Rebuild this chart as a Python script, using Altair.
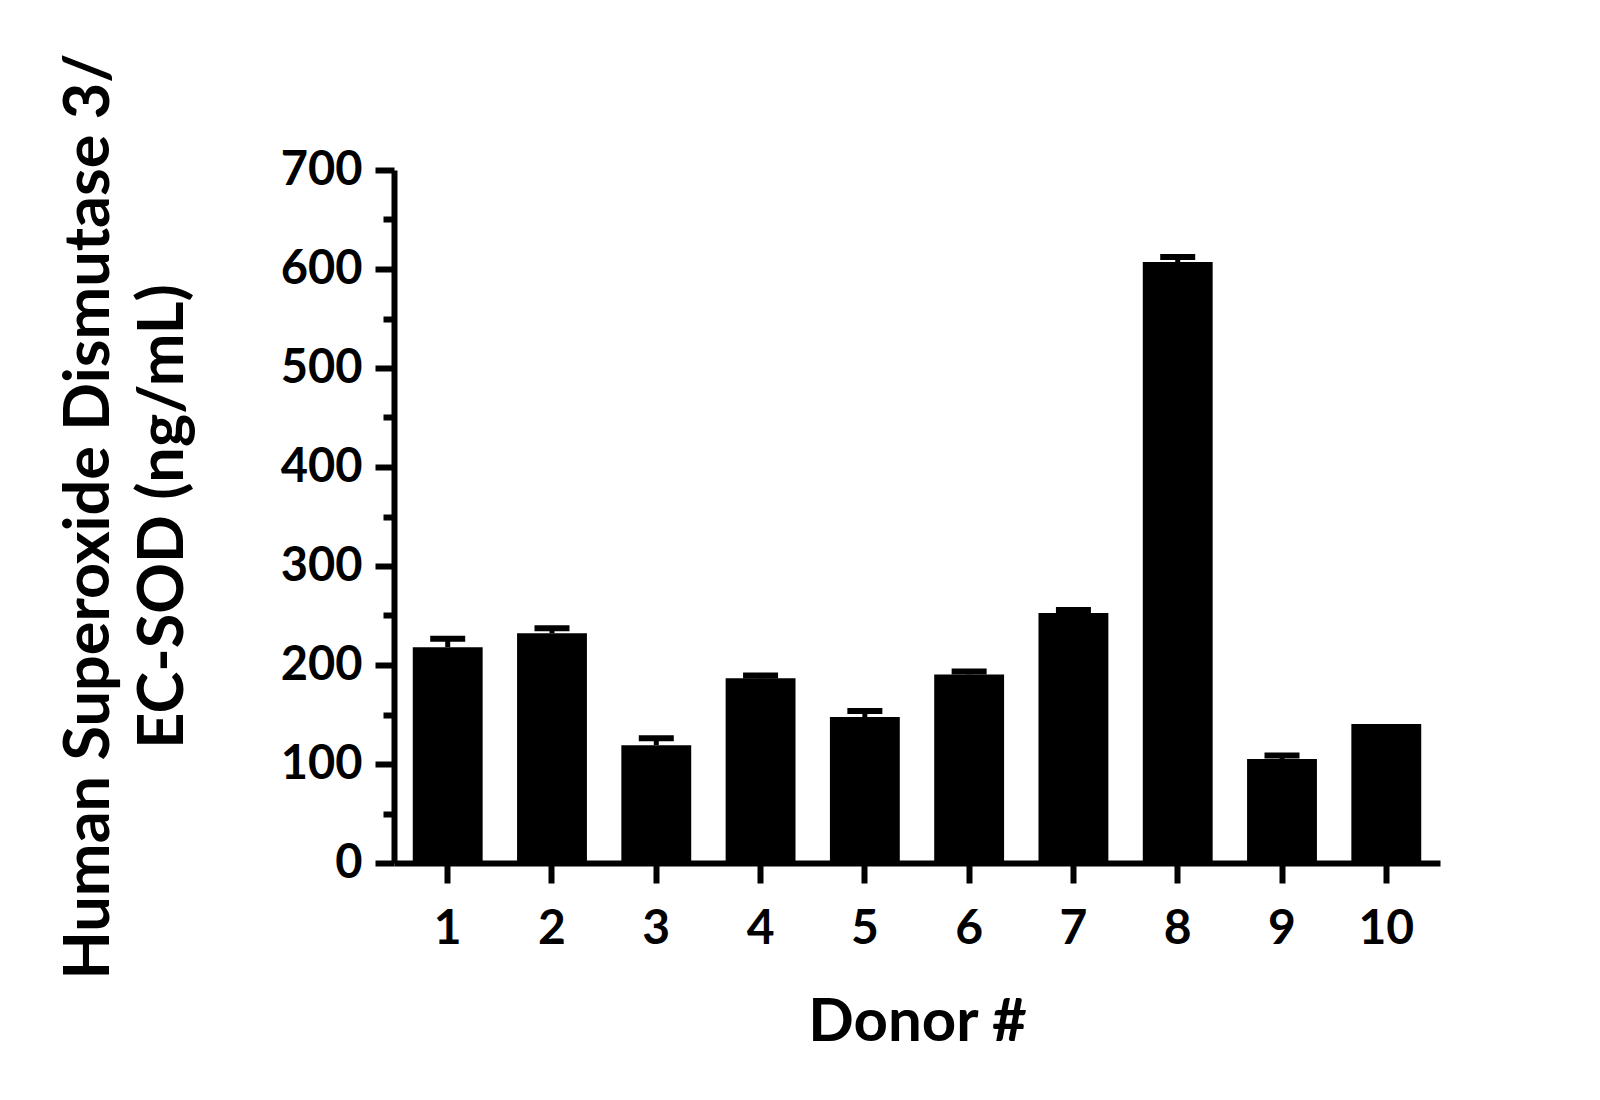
import altair as alt
import pandas as pd

donors = [1, 2, 3, 4, 5, 6, 7, 8, 9, 10]
means = [218, 232, 119, 186.5, 147.5, 190.5, 252.5, 607, 105, 140.5]
errors = [8.5, 5, 7, 3, 6, 3, 3, 5, 3.5, None]

df = pd.DataFrame({"donor": donors, "mean": means, "err": errors})
df["upper"] = df["mean"] + df["err"].fillna(0)
err_df = df[df["err"].notna()]

FONT = "Lato"

x_enc = alt.X(
    "donor:O",
    title="Donor #",
    scale=alt.Scale(paddingInner=0.33, paddingOuter=0.18),
    axis=alt.Axis(
        labelAngle=0, labelAlign="center",
        labelFont=FONT, labelFontSize=48, labelFontWeight="bold", labelColor="black",
        labelBaseline="alphabetic", labelPadding=60,
        tickSize=20, tickWidth=6, tickColor="black",
        domainWidth=6, domainColor="black",
        titleFont=FONT, titleFontSize=60, titleFontWeight="bold", titleColor="black",
        titleBaseline="alphabetic", titleY=177,
        grid=False,
    ),
)

y_scale = alt.Scale(domain=[0, 700], nice=False)
y_axis = alt.Axis(
    values=list(range(0, 701, 50)),
    labelExpr="datum.value % 100 == 0 ? datum.label : ''",
    labelOverlap=False, labelFlush=False,
    labelFont=FONT, labelFontSize=47, labelFontWeight="bold", labelColor="black",
    labelPadding=13,
    tickSize={"condition": {"test": "datum.value % 100 == 0", "value": 19}, "value": 11},
    tickWidth=6, tickColor="black",
    domainWidth=6, domainColor="black",
    title=["Human Superoxide Dismutase 3/", "EC-SOD (ng/mL)"],
    titleFont=FONT, titleFontSize=63, titleFontWeight="bold", titleColor="black",
    titleAngle=270, titleAlign="center", titleBaseline="alphabetic",
    titleX=-286, titleY=346, titleLineHeight=74,
    grid=False,
)

bars = alt.Chart(df).mark_bar(color="black").encode(
    x=x_enc,
    y=alt.Y("mean:Q", scale=y_scale, axis=y_axis),
)

stems = alt.Chart(err_df).mark_rule(color="black", strokeWidth=5).encode(
    x=alt.X("donor:O"),
    y=alt.Y("mean:Q"),
    y2="upper:Q",
)

caps = alt.Chart(err_df).mark_tick(color="black", size=35, thickness=6, opacity=1).encode(
    x=alt.X("donor:O"),
    y=alt.Y("upper:Q"),
)

chart = alt.layer(stems, bars, caps).properties(
    width=1046,
    height=693,
    padding={"left": 386, "top": 162, "right": 20, "bottom": 220},
    autosize=alt.AutoSizeParams(type="none"),
    background="white",
).configure_view(stroke=None)

chart.save("out.html", embed_options={"renderer": "svg", "actions": False})
